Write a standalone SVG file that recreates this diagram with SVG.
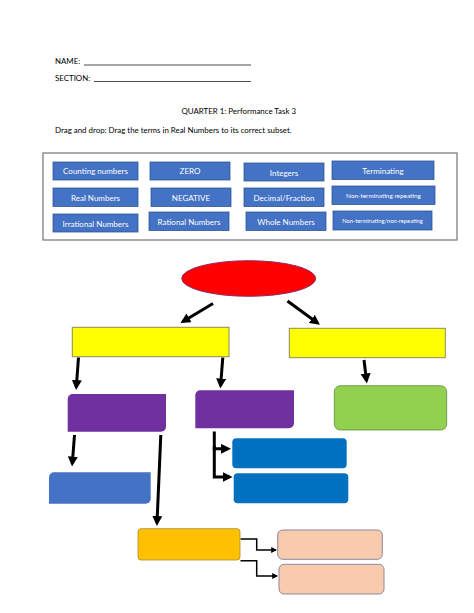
<svg xmlns="http://www.w3.org/2000/svg" width="474" height="613" viewBox="0 0 474 613">
<defs>
<style>
.t{font-family:Lato,"Open Sans","Liberation Sans",sans-serif;fill:#000;font-size:7.9px}
.bt{font-family:Lato,"Open Sans","Liberation Sans",sans-serif;fill:#fff;font-size:8px;text-anchor:middle}
.btn{fill:#4472C4;stroke:#2F5597;stroke-width:0.8}
.ul{stroke:#000;stroke-width:0.7}
.thick{stroke:#000;stroke-width:3;fill:none;marker-end:url(#ah)}
.thin{stroke:#000;stroke-width:1.5;fill:none;marker-end:url(#as)}
.yel{fill:#FFFF00;stroke:#8C8C5A;stroke-width:1}
.pur{fill:#7030A0}
.dblue{fill:#0070C0}
.peach{fill:#F8CBAD;stroke:#8E86A0;stroke-width:1}
</style>
<marker id="ah" viewBox="0 0 10 10" refX="7" refY="5" markerWidth="10" markerHeight="10" markerUnits="userSpaceOnUse" orient="auto">
<path d="M0,0 L10,5 L0,10 z" fill="#000"/>
</marker>
<marker id="as" viewBox="0 0 10 10" refX="8" refY="5" markerWidth="6" markerHeight="6" markerUnits="userSpaceOnUse" orient="auto">
<path d="M0,0 L10,5 L0,10 z" fill="#000"/>
</marker>
</defs>
<rect width="474" height="613" fill="#fff"/>

<g id="header">
<text class="t" x="55" y="64">NAME:</text>
<line class="ul" x1="84" y1="65" x2="251" y2="65"/>
<text class="t" x="55" y="80.5">SECTION:</text>
<line class="ul" x1="94" y1="81.5" x2="251" y2="81.5"/>
<text class="t" x="181.5" y="114">QUARTER 1: Performance Task 3</text>
<text class="t" x="55" y="133">Drag and drop: Drag the terms in Real Numbers to its correct subset.</text>
</g>

<g id="bank">
<rect x="43" y="153" width="414" height="87" fill="#fff" stroke="#7F7F7F" stroke-width="1.3"/>
<g id="b-counting"><rect class="btn" x="53" y="162" width="85" height="18"/><text class="bt" x="95.5" y="174">Counting numbers</text></g>
<g id="b-zero"><rect class="btn" x="150" y="162" width="80" height="18"/><text class="bt" x="190" y="174">ZERO</text></g>
<g id="b-integers"><rect class="btn" x="244" y="163" width="80" height="18"/><text class="bt" x="284" y="175.5">Integers</text></g>
<g id="b-terminating"><rect class="btn" x="332" y="161" width="102" height="18.5"/><text class="bt" x="383" y="173.5">Terminating</text></g>
<g id="b-real"><rect class="btn" x="53" y="188" width="85" height="18.5"/><text class="bt" x="95.5" y="200.5">Real Numbers</text></g>
<g id="b-negative"><rect class="btn" x="151" y="188" width="80" height="18.5"/><text class="bt" x="191" y="200.5">NEGATIVE</text></g>
<g id="b-decimal"><rect class="btn" x="244" y="188" width="80" height="18.5"/><text class="bt" x="284" y="200.5">Decimal/Fraction</text></g>
<g id="b-ntr"><rect class="btn" x="332" y="186" width="103" height="18.5"/><text class="bt" x="383.5" y="197.5" style="font-size:6.4px">Non-terminating repeating</text></g>
<g id="b-irrational"><rect class="btn" x="53" y="214" width="85" height="18"/><text class="bt" x="95.5" y="226.5">Irrational Numbers</text></g>
<g id="b-rational"><rect class="btn" x="149" y="212" width="80" height="18.5"/><text class="bt" x="189" y="224.5">Rational Numbers</text></g>
<g id="b-whole"><rect class="btn" x="246" y="212" width="80" height="18.5"/><text class="bt" x="286" y="224.5">Whole Numbers</text></g>
<g id="b-ntnr"><rect class="btn" x="333" y="211" width="99" height="19"/><text class="bt" x="382.5" y="222.5" style="font-size:5.8px">Non-terminating/non-repeating</text></g>
</g>

<g id="connectors">
<line class="thick" x1="213" y1="303.5" x2="183" y2="321.5"/>
<line class="thick" x1="287.5" y1="301" x2="317.5" y2="323"/>
<line class="thick" x1="78.5" y1="357.5" x2="76.3" y2="387"/>
<line class="thick" x1="222.8" y1="357.5" x2="220.6" y2="385.5"/>
<line class="thick" x1="364" y1="360" x2="366.5" y2="380.5"/>
<line class="thick" x1="74.5" y1="435" x2="72.3" y2="463.5"/>
<line class="thick" x1="160.8" y1="435" x2="157" y2="523"/>
<path class="thick" d="M214.3,431.5 V448.8 H228"/>
<path class="thick" d="M214.3,446 V477 H229.5"/>
<path class="thin" d="M240.5,539 H256.7 V550 H276"/>
<path class="thin" d="M240.5,560.7 H256.7 V576 H277"/>
</g>

<g id="n-root"><ellipse cx="248.7" cy="278.5" rx="67" ry="17.8" fill="#FF0000" stroke="#8B2A6A" stroke-width="1"/></g>
<g id="n-yellow-left"><rect class="yel" x="72.3" y="327.3" width="156.7" height="29.4"/></g>
<g id="n-yellow-right"><rect class="yel" x="289.3" y="328.3" width="156" height="29.4"/></g>
<g id="n-purple-1"><path class="pur" d="M72.7,394 H166 V426.7 A5,5 0 0 1 161,431.7 H67.7 V399 A5,5 0 0 1 72.7,394 Z"/></g>
<g id="n-purple-2"><path class="pur" d="M200.3,390.3 H294 V423.3 A5,5 0 0 1 289,428.3 H195.3 V395.3 A5,5 0 0 1 200.3,390.3 Z"/></g>
<g id="n-green"><rect x="334.3" y="385.7" width="112.4" height="44.3" rx="6" fill="#92D050" stroke="#5E8C3E" stroke-width="0.8"/></g>
<g id="n-blue-1"><rect class="dblue" x="232.3" y="438.3" width="114.4" height="30" rx="4"/></g>
<g id="n-blue-2"><rect class="dblue" x="233.7" y="473.3" width="114.6" height="30" rx="4"/></g>
<g id="n-blue-left"><path d="M54,472.3 H150.7 V498.7 A5,5 0 0 1 145.7,503.7 H49 V477.3 A5,5 0 0 1 54,472.3 Z" fill="#4472C4"/></g>
<g id="n-orange"><rect x="138" y="528.7" width="102" height="31.3" rx="3" fill="#FFC000" stroke="#A88A2E" stroke-width="0.8"/></g>
<g id="n-peach-1"><rect class="peach" x="277.7" y="530" width="104.6" height="29.3" rx="5"/></g>
<g id="n-peach-2"><rect class="peach" x="279" y="564.3" width="105" height="29.7" rx="5"/></g>
</svg>
